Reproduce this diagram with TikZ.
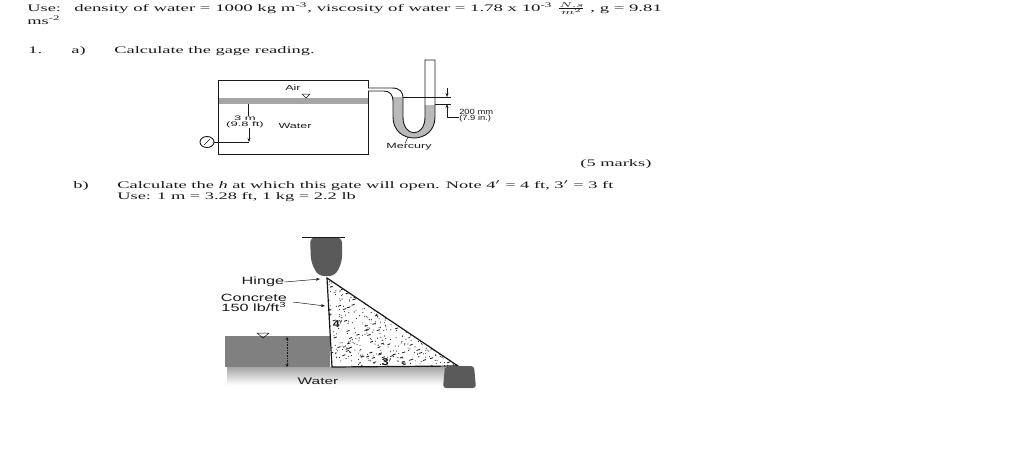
\documentclass[tikz,border=0pt]{standalone}
\usepackage{fontspec}
\setmainfont{Liberation Serif}
\newfontfamily\labelfont{Liberation Sans}
\usepackage{amsmath,amssymb}
\usetikzlibrary{arrows.meta,shapes.geometric}
\definecolor{waterdark}{RGB}{128,128,128}
\definecolor{waterband}{RGB}{165,165,165}
\definecolor{blockdark}{RGB}{90,90,90}
\definecolor{mercurygrey}{RGB}{185,185,185}
\definecolor{printblack}{RGB}{25,25,25}
\tikzset{
	questiontext/.style={anchor=base west,inner sep=0pt,transform shape,xscale=1.84,font=\fontsize{10}{12}\selectfont,text=printblack},
	figlabel/.style={inner sep=0pt,transform shape,xscale=1.67,font=\labelfont\fontsize{7.5}{8}\selectfont,text=printblack},
	biglabel/.style={inner sep=0pt,transform shape,xscale=1.55,font=\labelfont\fontsize{10.5}{10}\selectfont,text=printblack},
	wall/.style={draw=printblack,line width=0.9pt},
	leader/.style={draw=printblack,line width=0.5pt,-{Stealth[length=4pt,width=3pt]}}
}
\begin{document}
\begin{tikzpicture}[x=1pt,y=-1pt]
		\useasboundingbox (0,0) rectangle (1024,467);
		% question text
		\node[questiontext] (use) at (27,11) {Use:};
		\node[questiontext,xscale=1.02] (given) at (74,11) {density of water = 1000 kg m$^{\text{-3}}$, viscosity of water = 1.78 x 10$^{\text{-3}}$ $\frac{N.s}{m^2}$ , g = 9.81};
		\node[questiontext] (unit) at (27,24) {ms$^{\text{-2}}$};
		\node[questiontext] (one) at (28,53) {1.};
		\node[questiontext] (parta) at (71,53) {a)};
		\node[questiontext] (gage) at (114,53) {Calculate the gage reading.};
		\node[questiontext] (marks) at (580,166) {(5 marks)};
		\node[questiontext] (partb) at (73,188) {b)};
		\node[questiontext] (gate) at (117,188) {Calculate the \textit{h} at which this gate will open. Note 4$'$ = 4 ft, 3$'$ = 3 ft};
		\node[questiontext] (conv) at (117,199) {Use: 1 m = 3.28 ft, 1 kg = 2.2 lb};
		% tank
		\fill[waterband] (218,98) rectangle (368,104);
		\draw[wall] (368,88) -- (368,80) -- (218,80) -- (218,154) -- (368,154) -- (368,91);
		\draw[wall,line width=0.5pt] (302,94) -- (310,94) -- (306,98) -- cycle;
		\node[figlabel] (air) at (293,88) {Air};
		\node[figlabel] (water) at (295,126) {Water};
		\node[figlabel,xscale=1.2,font=\labelfont\fontsize{6.5}{7}\selectfont,align=center] (depth) at (245,122) {3 m\\[-1.5pt](9.8 ft)};
		\node[draw=printblack,line width=0.9pt,ellipse,minimum width=14pt,minimum height=11pt,inner sep=0pt] (gauge) at (207,142) {};
		\draw[printblack,line width=0.6pt] (204,145) -- (210,139);
		\coordinate (gaugeend) at (249,142);
		\coordinate (depthtop) at (248,104);
		\draw[wall,line width=0.5pt] (gauge) -- (gaugeend);
		\draw[printblack,line width=0.5pt] (depthtop) -- (depth.north -| depthtop);
		\draw[leader] (depth.south -| gaugeend) -- (gaugeend);
		% manometer
		\fill[mercurygrey] (393,97) -- (393,117) .. controls (393,145) and (435,145) .. (435,117) -- (435,105) -- (425,105) -- (425,117) .. controls (425,138) and (403,138) .. (403,117) -- (403,97) -- cycle;
		\draw[wall] (368,91) -- (384,91) .. controls (390,91) and (393,95) .. (393,101) -- (393,117) .. controls (393,145) and (435,145) .. (435,117) -- (435,60) -- (425,60) -- (425,117) .. controls (425,138) and (403,138) .. (403,117) -- (403,98) .. controls (403,92) and (400,88) .. (392,88) -- (368,88);
		\coordinate (levelleft) at (403,97);
		\coordinate (levelright) at (435,104);
		\coordinate (levelend) at (451,104);
		\draw[printblack,line width=0.5pt] (levelleft) -- (451,97);
		\draw[printblack,line width=0.5pt] (levelright) -- (levelend);
		\draw[leader] (447,88) -- (447,97);
		\draw[leader] (447,117) -- (447,104);
		\node[figlabel,xscale=.75,font=\labelfont\fontsize{7.5}{7.5}\selectfont,align=left,anchor=west] (reading) at (459,116) {200 mm\\[-1.5pt](7.9 in.)};
		\draw[printblack,line width=0.5pt] (447,117) -- (reading.west |- 0,117);
		\node[figlabel] (mercury) at (409,147) {Mercury};
		\draw[printblack,line width=0.5pt] (mercury.north) ++(-4,0) -- (408,137);
		% gate
		\fill[waterdark] (225,336) rectangle (330,367);
		\shade[top color=waterband,bottom color=white] (227,367) rectangle (445,385);
		\coordinate (hingepoint) at (327,278);
		\coordinate (gateleft) at (332,367);
		\coordinate (gateright) at (458,366);
		\begin{scope}
			\clip (hingepoint) -- (gateleft) -- (gateright) -- cycle;
			\pgfmathsetseed{4711}
			\foreach \i in {1,...,520}{
				\pgfmathsetmacro{\dotx}{327+131*rnd}
				\pgfmathsetmacro{\doty}{278+89*rnd}
				\fill[printblack] (\dotx,\doty) circle (0.55);
			}
			\foreach \i in {1,...,120}{
				\pgfmathsetmacro{\dotx}{327+131*rnd}
				\pgfmathsetmacro{\doty}{278+89*rnd}
				\draw[printblack,line width=0.8pt] (\dotx,\doty) -- ++(3,-1);
			}
		\end{scope}
		\draw[wall,line width=1.2pt] (hingepoint) -- (gateright) -- (gateleft) -- cycle;
		% upper and lower blocks
		\fill[blockdark,rounded corners=6pt] (310,237) -- (342,237) -- (342,262) -- (335,276) -- (318,276) -- (311,262) -- cycle;
		\draw[printblack,line width=0.6pt] (302,237) -- (345,237);
		\fill[blockdark,rounded corners=3pt] (445,366) -- (474,366) -- (476,388) -- (443,388) -- cycle;
		\draw[printblack,line width=0.5pt] (257,333) -- (269,333) -- (263,338) -- cycle;
		\draw[printblack,line width=0.6pt,densely dotted,{Stealth[length=3pt,width=3pt]}-{Stealth[length=3pt,width=3pt]}] (287,337) -- (287,367);
		\node[biglabel] (hinge) at (263,282) {Hinge};
		\node[biglabel,align=center] (concrete) at (254,303) {Concrete\\150 lb/ft$^{\text{3}}$};
		\node[biglabel,xscale=1.05,font=\labelfont\fontsize{9.5}{9.5}\selectfont] (waterb) at (318,381) {Water};
		\node[biglabel,xscale=.8,font=\labelfont\bfseries\fontsize{10}{10}\selectfont] (fourft) at (338,324) {4$'$};
		\node[biglabel,xscale=.8,font=\labelfont\bfseries\fontsize{10}{10}\selectfont] (threeft) at (387,362) {3$'$};
		\coordinate (hingetip) at (320,279);
		\coordinate (concretetip) at (325,306);
		\coordinate (concretestart) at (293,302);
		\draw[leader] (hinge.east) -- (hingetip);
		\draw[leader] (concretestart) -- (concretetip);
	\end{tikzpicture}
\end{document}
